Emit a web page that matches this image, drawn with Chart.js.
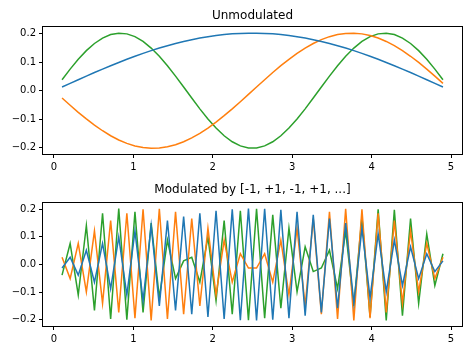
<!DOCTYPE html>
<html>
<head>
<meta charset="utf-8">
<script src="https://cdn.jsdelivr.net/npm/chart.js@4.4.1/dist/chart.umd.min.js"></script>
<style>
  html, body { margin: 0; padding: 0; background: #fff; }
  #wrap { position: relative; width: 474px; height: 355px; overflow: hidden; }
  canvas { position: absolute; left: 0; }
</style>
</head>
<body>
<div id="wrap">
  <canvas id="c1" width="474" height="177" style="top:0px"></canvas>
  <canvas id="c2" width="474" height="178" style="top:177px"></canvas>
</div>
<script>
// ---- Data ----
const titleTop = "Unmodulated";
const titleBottom = "Modulated by [-1, +1, -1, +1, ...]";

const xValues = [0.102,0.204,0.306,0.408,0.510,0.612,0.714,0.816,0.918,1.020,1.122,1.224,1.327,1.429,1.531,1.633,1.735,1.837,1.939,2.041,2.143,2.245,2.347,2.449,
                 2.551,2.653,2.755,2.857,2.959,3.061,3.163,3.265,3.367,3.469,3.571,3.673,3.776,3.878,3.980,4.082,4.184,4.286,4.388,4.490,4.592,4.694,4.796,4.898];

const blueUnmod = [0.0129,0.0258,0.0386,0.0512,0.0637,0.0758,0.0877,0.0991,0.1102,0.1208,0.1310,0.1405,0.1496,0.1580,0.1657,0.1728,0.1791,0.1847,0.1896,0.1937,0.1970,0.1994,0.2011,0.2019,
                   0.2019,0.2011,0.1994,0.1970,0.1937,0.1896,0.1847,0.1791,0.1728,0.1657,0.1580,0.1496,0.1405,0.1310,0.1208,0.1102,0.0991,0.0877,0.0758,0.0637,0.0512,0.0386,0.0258,0.0129];
const orangeUnmod = [-0.0258,-0.0512,-0.0758,-0.0991,-0.1208,-0.1405,-0.1580,-0.1728,-0.1847,-0.1937,-0.1994,-0.2019,-0.2011,-0.1970,-0.1896,-0.1791,-0.1657,-0.1496,-0.1310,-0.1102,-0.0877,-0.0637,-0.0386,-0.0129,
                     0.0129,0.0386,0.0637,0.0877,0.1102,0.1310,0.1496,0.1657,0.1791,0.1896,0.1970,0.2011,0.2019,0.1994,0.1937,0.1847,0.1728,0.1580,0.1405,0.1208,0.0991,0.0758,0.0512,0.0258];
const greenUnmod = [0.0386,0.0758,0.1102,0.1405,0.1657,0.1847,0.1970,0.2019,0.1994,0.1896,0.1728,0.1496,0.1208,0.0877,0.0512,0.0129,-0.0258,-0.0637,-0.0991,-0.1310,-0.1580,-0.1791,-0.1937,-0.2011,
                    -0.2011,-0.1937,-0.1791,-0.1580,-0.1310,-0.0991,-0.0637,-0.0258,0.0129,0.0512,0.0877,0.1208,0.1496,0.1728,0.1896,0.1994,0.2019,0.1970,0.1847,0.1657,0.1405,0.1102,0.0758,0.0386];

const blueMod = [-0.0129,0.0258,-0.0386,0.0512,-0.0637,0.0758,-0.0877,0.0991,-0.1102,0.1208,-0.1310,0.1405,-0.1496,0.1580,-0.1657,0.1728,-0.1791,0.1847,-0.1896,0.1937,-0.1970,0.1994,-0.2011,0.2019,
                 -0.2019,0.2011,-0.1994,0.1970,-0.1937,0.1896,-0.1847,0.1791,-0.1728,0.1657,-0.1580,0.1496,-0.1405,0.1310,-0.1208,0.1102,-0.0991,0.0877,-0.0758,0.0637,-0.0512,0.0386,-0.0258,0.0129];
const orangeMod = [0.0258,-0.0512,0.0758,-0.0991,0.1208,-0.1405,0.1580,-0.1728,0.1847,-0.1937,0.1994,-0.2019,0.2011,-0.1970,0.1896,-0.1791,0.1657,-0.1496,0.1310,-0.1102,0.0877,-0.0637,0.0386,-0.0129,
                   -0.0129,0.0386,-0.0637,0.0877,-0.1102,0.1310,-0.1496,0.1657,-0.1791,0.1896,-0.1970,0.2011,-0.2019,0.1994,-0.1937,0.1847,-0.1728,0.1580,-0.1405,0.1208,-0.0991,0.0758,-0.0512,0.0258];
const greenMod = [-0.0386,0.0758,-0.1102,0.1405,-0.1657,0.1847,-0.1970,0.2019,-0.1994,0.1896,-0.1728,0.1496,-0.1208,0.0877,-0.0512,0.0129,0.0258,-0.0637,0.0991,-0.1310,0.1580,-0.1791,0.1937,-0.2011,
                  0.2011,-0.1937,0.1791,-0.1580,0.1310,-0.0991,0.0637,-0.0258,-0.0129,0.0512,-0.0877,0.1208,-0.1496,0.1728,-0.1896,0.1994,-0.2019,0.1970,-0.1847,0.1657,-0.1405,0.1102,-0.0758,0.0386];

const xTicks = [0, 1, 2, 3, 4, 5];
const yTicks = [-0.2, -0.1, 0.0, 0.1, 0.2];

const seriesColors = ["#1f77b4", "#ff7f0e", "#2ca02c"];

// ---- Chart construction ----
const FONT = "'DejaVu Sans', sans-serif";

function pts(ys) { return xValues.map((x, i) => ({ x: x, y: ys[i] })); }

const framePlugin = {
  id: 'frame',
  afterDraw(chart) {
    const a = chart.chartArea, ctx = chart.ctx;
    ctx.save();
    ctx.strokeStyle = '#000';
    ctx.lineWidth = 1;
    ctx.strokeRect(Math.round(a.left) - 0.5, Math.round(a.top) - 0.5,
                   Math.round(a.right) - Math.round(a.left) + 1, Math.round(a.bottom) - Math.round(a.top) + 1);
    ctx.restore();
  }
};

function makeChart(id, title, series, titlePad, xAxisHeight) {
  const datasets = series.map((ys, i) => ({
    data: pts(ys),
    borderColor: seriesColors[i],
    backgroundColor: seriesColors[i],
    borderWidth: 1.5,
    pointRadius: 0,
    tension: 0,
    fill: false
  }));
  return new Chart(document.getElementById(id), {
    type: 'line',
    data: { datasets },
    plugins: [framePlugin],
    options: {
      responsive: false,
      animation: false,
      devicePixelRatio: 1,
      layout: { padding: { left: 0, right: 12, top: 0, bottom: 0 } },
      plugins: {
        legend: { display: false },
        tooltip: { enabled: false },
        title: {
          display: true,
          text: title,
          color: '#000',
          fullSize: false,
          font: { family: FONT, size: 12, weight: 'normal', lineHeight: 1.2 },
          padding: titlePad
        }
      },
      scales: {
        x: {
          type: 'linear',
          min: -0.1378, max: 5.1378,
          afterBuildTicks: s => { s.ticks = xTicks.map(v => ({ value: v })); },
          afterFit: s => { s.height = xAxisHeight; },
          border: { display: false },
          grid: { display: true, drawOnChartArea: false, drawTicks: true, tickLength: 4, tickColor: '#000', tickWidth: 1 },
          ticks: { color: '#000', font: { family: FONT, size: 10 }, padding: 3, maxRotation: 0,
                   callback: v => String(v) }
        },
        y: {
          type: 'linear',
          min: -0.2221, max: 0.2221,
          afterBuildTicks: s => { s.ticks = yTicks.map(v => ({ value: v })); },
          afterFit: s => { s.width = 43; },
          border: { display: false },
          grid: { display: true, drawOnChartArea: false, drawTicks: true, tickLength: 4, tickColor: '#000', tickWidth: 1 },
          ticks: { color: '#000', font: { family: FONT, size: 10 }, padding: 3,
                   callback: v => v.toFixed(1).replace('-', '\u2212') }
        }
      }
    }
  });
}

makeChart('c1', titleTop, [blueUnmod, orangeUnmod, greenUnmod], { top: 9, bottom: 4 }, 23);
makeChart('c2', titleBottom, [blueMod, orangeMod, greenMod], { top: 6, bottom: 5.5 }, 29);
</script>
</body>
</html>
